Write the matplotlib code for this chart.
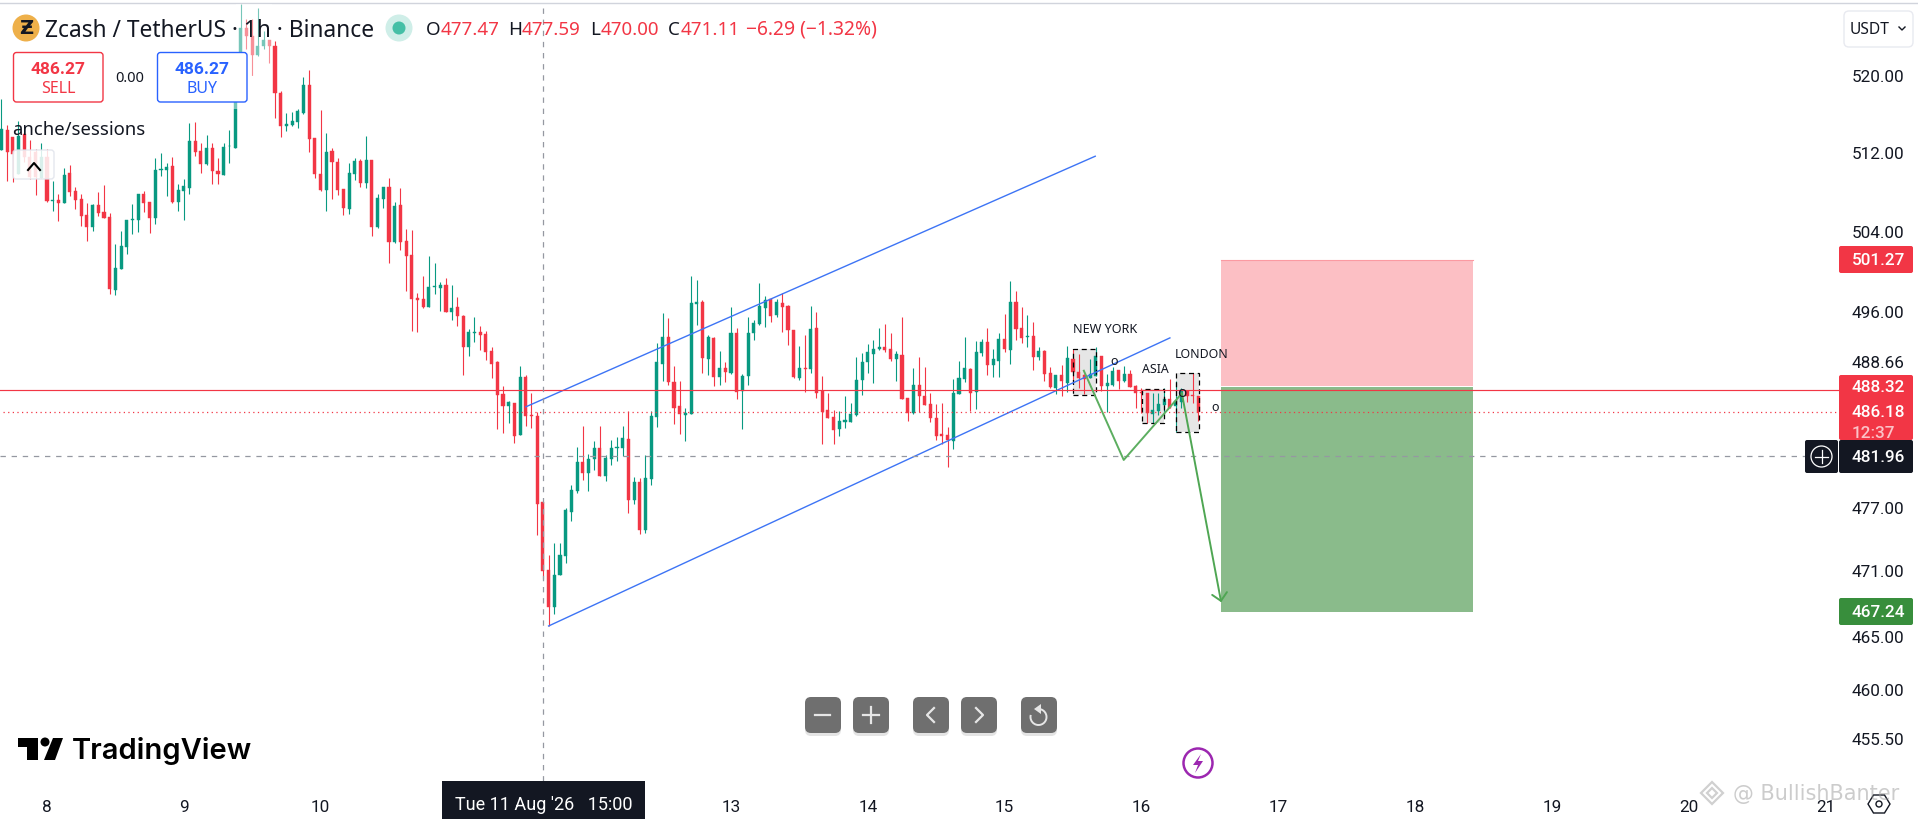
import numpy as np
import matplotlib
matplotlib.use("Agg")
import matplotlib.pyplot as plt
from matplotlib.patches import Rectangle, FancyBboxPatch, Circle, Polygon, Arc
from matplotlib.ticker import NullLocator, NullFormatter

# candles, hourly, first one is 16:00 on the 7th
opens = [512.3,514.4,513.7,509.9,514.0,511.6,512.15,509.5,511.6,507.2,
 507.3,507.0,510.0,508.2,507.4,505.8,504.6,506.8,506.1,505.6,
 498.3,500.4,502.6,505.3,505.3,507.9,507.1,505.5,510.3,510.3,
 510.7,507.1,508.2,508.5,513.2,512.25,510.9,512.55,510.2,509.8,
 512.7,512.55,520.9,524.9,524.05,522.1,523.0,523.6,523.0,518.2,
 514.8,514.9,515.2,516.1,519.0,513.6,509.9,508.3,512.25,511.1,
 508.4,506.4,509.9,511.2,509.0,511.3,504.6,507.4,508.6,503.1,
 506.8,503.2,501.8,497.5,497.4,496.6,498.6,498.5,498.8,496.1,
 496.6,495.75,492.75,494.1,494.2,494.0,492.3,491.2,488.1,487.0,
 487.3,484.2,489.8,486.1,486.0,477.8,471.4,468.0,470.9,472.7,
 476.9,478.8,481.6,480.6,481.9,482.9,480.3,481.9,482.9,482.9,
 483.8,478.0,479.7,475.2,480.0,485.9,491.1,493.7,489.3,487.0,
 486.1,486.2,496.9,497.1,491.5,493.6,489.8,490.7,490.2,494.1,
 488.4,489.9,494.1,495.0,496.5,497.4,495.85,497.0,496.7,494.4,
 489.7,490.7,490.6,494.6,488.4,486.6,485.9,484.8,485.4,485.4,
 486.1,489.5,491.2,492.0,492.5,492.75,492.5,491.5,491.9,487.8,
 486.3,489.0,487.9,487.2,485.8,484.3,484.2,483.6,488.1,489.6,
 490.6,488.3,492.1,493.2,491.0,491.3,493.5,492.45,497.1,494.6,
 493.7,493.8,491.7,492.3,490.2,488.7,490.0,489.2,491.5,490.3,
 490.0,489.7,489.9,491.8,488.9,489.0,490.5,489.4,490.1,488.9,
 488.3,488.2,486.2,486.5,487.1,487.7,487.0,487.4,488.4,488.0,
 487.9]
highs = [517.5,514.9,513.7,515.3,514.0,513.3,512.4,513.06,512.4,509.2,
 507.9,510.5,510.8,508.6,507.9,507.0,506.9,508.1,508.8,506.0,
 502.9,504.2,505.3,506.9,507.9,508.2,507.1,511.5,512.05,511.0,
 511.6,508.9,509.4,515.1,515.2,513.06,513.9,513.0,511.5,513.06,
 514.4,521.1,527.4,525.8,525.8,527.0,524.6,523.6,523.5,518.4,
 516.1,516.2,516.5,519.8,520.5,513.6,516.4,514.1,512.55,511.5,
 508.4,511.0,511.5,511.4,513.8,511.3,507.9,508.6,509.5,507.1,
 508.5,504.4,504.3,498.0,499.7,501.7,501.0,499.1,499.5,498.8,
 497.6,495.85,494.5,495.65,494.8,494.3,492.75,491.3,488.9,487.5,
 487.3,490.9,490.0,488.2,486.4,477.8,472.8,473.9,473.9,477.2,
 479.4,483.0,485.1,482.4,483.6,485.1,482.3,483.7,484.0,485.1,
 486.5,480.2,480.1,482.3,486.5,493.1,496.0,495.6,490.9,489.4,
 486.8,499.7,499.3,497.3,493.9,493.7,492.3,491.2,496.6,494.6,
 490.1,495.65,495.4,499.0,497.7,497.5,497.4,498.0,496.8,494.4,
 492.8,493.9,496.7,496.1,489.9,488.2,486.6,486.5,487.9,487.3,
 491.7,492.1,493.0,493.4,494.6,495.0,494.1,492.3,495.65,487.8,
 490.7,491.7,490.8,488.2,487.2,487.3,485.0,489.6,491.3,493.7,
 490.7,493.3,493.5,494.6,492.5,494.1,495.9,499.2,498.2,496.6,
 495.85,495.2,492.75,492.45,490.8,490.0,491.0,492.8,492.5,492.0,
 490.1,491.5,492.75,491.8,490.1,490.8,490.5,490.9,490.5,489.0,
 488.7,488.2,488.2,488.2,488.7,489.6,489.4,488.7,488.5,490.2,
 487.9]
lows = [512.3,509.2,509.1,509.9,511.1,509.4,507.8,509.5,507.1,506.2,
 505.2,507.0,507.7,506.4,504.7,503.2,504.2,505.7,505.5,497.9,
 497.8,500.4,501.9,503.9,504.1,506.1,504.0,504.9,509.7,507.7,
 507.0,506.2,505.3,507.9,511.7,510.0,510.8,508.9,508.9,509.8,
 511.0,512.55,520.9,522.7,520.0,522.0,522.7,521.2,515.6,513.66,
 514.3,514.8,514.6,516.0,512.15,509.5,508.2,506.2,507.4,507.8,
 505.8,505.9,509.3,508.6,508.5,503.7,504.5,506.5,501.0,503.0,
 502.3,498.2,494.3,494.2,496.5,496.6,497.9,496.2,496.1,495.4,
 494.8,490.0,491.8,493.2,492.4,491.4,489.7,484.8,484.4,485.3,
 483.4,484.2,485.1,484.9,474.7,470.6,466.2,467.3,470.9,472.1,
 476.0,478.7,479.9,478.8,480.8,480.3,479.8,481.3,481.7,482.2,
 476.8,477.6,474.8,474.9,479.4,485.0,489.4,489.0,485.2,484.3,
 483.6,486.2,494.9,490.2,490.0,488.9,489.0,489.3,490.1,487.7,
 484.8,489.0,493.4,494.9,494.7,495.2,495.65,494.2,492.9,489.7,
 489.5,488.3,490.2,487.8,483.3,485.8,483.3,484.1,484.9,485.4,
 486.0,488.0,490.2,489.2,492.45,492.2,491.3,489.4,487.7,485.5,
 486.2,486.4,487.1,485.4,483.7,483.3,481.1,482.8,488.1,489.3,
 486.5,486.7,491.8,490.0,489.8,489.8,492.2,491.1,493.4,493.1,
 492.75,490.5,491.4,489.4,488.7,488.1,487.9,488.3,489.3,488.7,
 488.1,489.7,489.9,488.4,486.4,488.9,488.6,489.3,488.8,486.8,
 486.3,485.3,485.3,486.1,486.2,486.8,484.5,486.8,487.4,487.3,
 485.5]
closes = [514.5,512.15,511.95,513.8,511.6,509.6,509.6,511.6,507.2,507.3,
 507.0,509.8,508.1,507.3,505.7,504.6,506.8,506.0,505.5,498.4,
 500.5,502.7,505.3,505.4,507.9,507.0,505.5,510.3,510.4,510.6,
 507.1,508.3,508.7,513.2,512.15,510.9,512.55,510.2,509.9,512.65,
 512.75,520.9,524.9,524.05,522.1,523.0,523.6,523.0,518.2,514.8,
 515.0,515.3,516.3,519.0,513.5,509.9,508.3,512.15,511.1,508.3,
 506.5,510.0,511.2,509.0,511.3,504.6,507.5,508.6,503.1,506.7,
 503.1,501.7,497.4,497.3,496.6,498.6,498.7,498.8,496.1,496.5,
 495.75,492.75,494.2,494.2,493.9,492.2,491.1,488.0,487.0,487.4,
 484.1,489.8,486.0,486.0,477.6,471.3,468.0,470.95,472.8,477.0,
 478.9,481.6,480.6,481.9,482.9,480.3,482.0,482.9,483.0,483.9,
 478.0,479.7,475.2,480.1,486.0,491.2,493.7,489.3,486.8,486.2,
 486.3,497.0,497.1,491.6,493.7,489.8,490.7,490.3,494.1,488.3,
 489.9,494.1,495.1,496.7,497.3,495.75,497.1,496.6,494.4,489.8,
 490.7,490.6,494.5,488.2,486.4,485.8,484.7,485.5,485.6,486.2,
 489.5,491.2,492.2,492.5,492.75,492.45,491.5,492.0,487.7,486.3,
 489.0,487.9,487.1,485.8,484.1,484.1,483.7,488.2,489.7,490.7,
 488.2,492.2,493.2,491.0,491.5,493.5,492.5,497.1,494.5,493.6,
 493.8,491.7,492.3,490.1,488.8,490.0,489.4,491.6,490.3,489.7,
 489.6,490.1,491.8,488.9,489.2,490.4,489.4,490.1,488.8,488.2,
 488.2,486.3,486.6,487.2,487.7,486.8,487.5,488.5,487.9,487.9,
 486.4]

# axes labels
price_ticks = [520, 512.1, 504.2, 496.2, 491.3, 477.3, 471.4, 465.3, 460.4, 456.0]
price_labels = ["520.00", "512.00", "504.00", "496.00", "488.66", "477.00", "471.00", "465.00", "460.00", "455.50"]
day_ticks = [0, 24, 48, 120, 144, 168, 192, 216, 240, 264, 288, 312]
day_labels = ["8", "9", "10", "13", "14", "15", "16", "17", "18", "19", "20", "21"]

# drawings on the chart (hour, price)
upper_line_x = [84, 183.9]
upper_line_y = [486.9, 511.7]
lower_line_x = [88, 197]
lower_line_y = [466.2, 493.6]
path_x = [181.9, 188.9, 199.1, 206]
path_y = [490.4, 481.8, 488.2, 468.4]
sessions = [("NEW YORK", 180, 184, 488.0, 492.5), ("ASIA", 192.1, 196, 485.3, 488.6), ("LONDON", 198, 202.1, 484.5, 490.2)]
stop_price = 501.27
entry_price = 488.9
target_price = 467.5
line_price = 488.57
last_price = 486.4
cross_price = 482.2

RED = "#f23645"
GREEN = "#089981"
BLUE = "#2962ff"
DARK = "#131722"
FONT = "Noto Sans"
NUMFONT = "Roboto"

fig = plt.figure(figsize=(19.18, 8.2), dpi=100)
ax = fig.add_axes([0, 0, 1, 1])
ax.set_yscale("log")
ax.set_xlim((0 - 47) / 5.7, (1918 - 47) / 5.7)
ax.set_ylim(448.7, 527.9)

opens = np.array(opens)
highs = np.array(highs)
lows = np.array(lows)
closes = np.array(closes)
hours = np.arange(-8, -8 + len(opens))
up = closes >= opens
colors = [GREEN if u else RED for u in up]

# risk / reward boxes
ax.add_patch(Rectangle((206, entry_price), 44.2, stop_price - entry_price, fc="#fcbfc4", ec="none", zorder=1))
ax.plot([206, 250.2], [stop_price, stop_price], color="#fb9aa2", lw=0.8, zorder=1)
ax.add_patch(Rectangle((206, target_price), 44.2, entry_price - 0.12 - target_price, fc="#8abb8b", ec="none", zorder=1))

# session boxes
for name, x0, x1, y0, y1 in sessions:
    ax.add_patch(Rectangle((x0, y0), x1 - x0, y1 - y0, fc="#e6e6e6", ec="none", zorder=1.5))
    ax.add_patch(Rectangle((x0, y0), x1 - x0, y1 - y0, fc="none", ec="black", lw=0.9, ls=(0, (4, 3)), zorder=3))

# candles
ax.vlines(hours, lows, highs, colors=colors, lw=0.8, zorder=2)
ax.bar(hours, closes - opens, bottom=opens, width=0.56, color=colors, edgecolor=colors, linewidth=0.3, zorder=2.1)

ax.plot(upper_line_x, upper_line_y, color="#3d74f5", lw=1.0, zorder=3)
ax.plot(lower_line_x, lower_line_y, color="#3d74f5", lw=1.0, zorder=3)

# price lines and crosshair
ax.plot([-8.25, 314.4], [line_price, line_price], color=RED, lw=0.85, zorder=3.5)
ax.plot([-7.7, 314.4], [last_price, last_price], color=RED, lw=0.9, ls=(0, (1, 2.7)), zorder=3.5)
ax.plot([-8.25, 308.4], [cross_price, cross_price], color="#9598a1", lw=0.9, ls=(0, (4.3, 4.6)), zorder=3.5)
ax.axvline(87, ymin=(820 - 782) / 820, ymax=1 - 5 / 820, color="#9598a1", lw=0.9, ls=(0, (4.3, 4.6)), zorder=3.5)

# green path
ax.plot(path_x[:3], path_y[:3], color="#5cae60", lw=1.4, zorder=4)
ax.annotate("", xy=(path_x[3], path_y[3]), xytext=(path_x[2], path_y[2]),
            arrowprops=dict(arrowstyle="->,head_length=0.3,head_width=0.3", color="#4fa653", lw=1.4, mutation_scale=18, shrinkA=0, shrinkB=0), zorder=4)

# session names
ax.text(180, 494.5, "NEW YORK", fontsize=9.1, family=FONT, color=DARK, va="center", zorder=5)
ax.text(192.1, 490.65, "ASIA", fontsize=8.9, family=FONT, color=DARK, va="center", zorder=5)
ax.text(197.8, 492.1, "LONDON", fontsize=8.9, family=FONT, color=DARK, va="center", zorder=5)
ax.text(187.2, 491.4, "o", fontsize=9, family=FONT, color=DARK, ha="center", va="center", zorder=5)
ax.text(205, 486.9, "o", fontsize=9, family=FONT, color=DARK, ha="center", va="center", zorder=5)
ax.text(199.1, 488.3, "o", fontsize=11, family=FONT, color=DARK, ha="center", va="center", zorder=5)

# real axes, labels pulled inside the picture
for s in ax.spines.values():
    s.set_visible(False)
ax.yaxis.tick_right()
ax.set_yticks(price_ticks, price_labels)
ax.yaxis.set_minor_locator(NullLocator())
ax.yaxis.set_minor_formatter(NullFormatter())
ax.tick_params(axis="y", length=0, direction="in", pad=-47.5, labelsize=12.3, labelcolor=DARK)
for t in ax.get_yticklabels():
    t.set_family(NUMFONT)
ax.set_xticks(day_ticks, day_labels)
ax.tick_params(axis="x", length=0, direction="in", pad=-14.5, labelsize=12.3, labelcolor=DARK)
for t in ax.get_xticklabels():
    t.set_family(NUMFONT)

# screen furniture goes on a second layer in pixel coordinates
ui = fig.add_axes([0, 0, 1, 1])
ui.set_xlim(0, 1918)
ui.set_ylim(820, 0)
ui.axis("off")
ui.patch.set_alpha(0)


def box(x0, y0, x1, y1, fc, ec="none", r=3, lw=1, alpha=None, z=2):
    p = FancyBboxPatch((x0 + r, y0 + r), x1 - x0 - 2 * r, y1 - y0 - 2 * r, boxstyle="round,pad=%d,rounding_size=%d" % (r, r),
                       fc=fc, ec=ec, lw=lw, alpha=alpha, zorder=z)
    ui.add_patch(p)


def label(x, y, s, size=12, color=DARK, ha="left", weight="normal", family=FONT):
    ui.text(x, y, s, fontsize=size, color=color, ha=ha, va="center", fontweight=weight, family=family, zorder=6)


ui.plot([0, 1918], [3.5, 3.5], color="#d1d4dc", lw=1, zorder=1)

# faded parts under the legend
ui.add_patch(Rectangle((236, 5), 36, 71, fc="white", alpha=0.45, ec="none", zorder=1))
ui.add_patch(Rectangle((230, 103), 17, 7, fc="white", alpha=0.45, ec="none", zorder=1))

# header
ui.add_patch(Circle((26, 29), 13.5, fc="#eeb04a", ec="none", zorder=2))
label(26, 29, "Ƶ", 14, DARK, ha="center", weight="bold", family="DejaVu Sans")
label(45, 31, "Zcash / TetherUS · 1h · Binance", 16.4)
ui.add_patch(Circle((399, 29), 13.5, fc="#cfeee8", ec="none", zorder=2))
ui.add_patch(Circle((399, 29), 6.5, fc="#45bfa6", ec="none", zorder=3))
for x, x2, a, b in [(426, 441, "O", "477.47"), (508, 522, "H", "477.59"), (590, 601, "L", "470.00"), (668, 681, "C", "471.11")]:
    label(x, 30, a, 13.5)
    label(x2, 30, b, 13.5, RED)
label(746, 30, "−6.29 (−1.32%)", 13.9, RED)

# order buttons
box(13.5, 53.5, 103, 103, "white", RED)
label(58, 69, "486.27", 12.5, RED, ha="center", weight="bold", family=NUMFONT)
label(58, 89, "SELL", 11.5, RED, ha="center")
label(130, 79, "0.00", 10.5, DARK, ha="center")
box(157.5, 53.5, 247, 103, "white", BLUE)
label(202, 69, "486.27", 12.5, BLUE, ha="center", weight="bold", family=NUMFONT)
label(202, 89, "BUY", 11.5, BLUE, ha="center")
label(12, 130, "anche/sessions", 13.3)
box(13, 151, 54, 180, "white", "#e0e3eb", alpha=0.85, z=1.5)
ui.plot([28, 34, 40], [171, 164, 171], color="black", lw=1.5, zorder=3)

# price scale tags
box(1844, 12, 1913, 48, "white", "#e8eaf0", r=5)
label(1850, 30, "USDT", 11.2, DARK, family="Noto Sans")
ui.plot([1899, 1902, 1905], [28, 31, 28], color=DARK, lw=1, zorder=3)
box(1839, 247, 1913, 274, RED, r=2)
label(1852, 260.5, "501.27", 12.3, "white", weight="medium", family=NUMFONT)
box(1839, 376, 1913, 441, RED, r=2)
label(1852, 387.5, "488.32", 12.3, "white", weight="medium", family=NUMFONT)
label(1852, 413, "486.18", 12.3, "white", weight="medium", family=NUMFONT)
label(1852, 433.5, "12:37", 12.3, "#fbc2c7", weight="medium", family=NUMFONT)
box(1805, 441, 1838, 474, DARK, r=2)
ui.add_patch(Circle((1821.5, 457.5), 10.5, fc="none", ec="white", lw=0.9, zorder=3))
ui.plot([1815, 1828], [457.5, 457.5], color="white", lw=0.9, zorder=3)
ui.plot([1821.5, 1821.5], [451, 464], color="white", lw=0.9, zorder=3)
box(1839, 441, 1913, 474, DARK, r=2)
label(1852, 457.5, "481.96", 12.3, "white", weight="medium", family=NUMFONT)
box(1839, 599, 1913, 626, "#388e3c", r=2)
label(1852, 612.5, "467.24", 12.3, "white", weight="medium", family=NUMFONT)

# time scale box
ui.add_patch(Rectangle((442, 782), 203, 38, fc=DARK, ec="none", zorder=2))
label(543.5, 805, "Tue 11 Aug '26   15:00", 13, "white", ha="center", family=NUMFONT)

# TradingView logo
ui.add_patch(Polygon([(18, 739), (38, 739), (38, 761), (27, 761), (27, 748), (18, 748)], fc="black", ec="none", zorder=3))
ui.add_patch(Circle((45, 743), 4.5, fc="black", ec="none", zorder=3))
ui.add_patch(Polygon([(53, 739), (63, 739), (55, 761), (44, 761)], fc="black", ec="none", zorder=3))
label(72, 751, "TradingView", 21, "black", weight="semibold", family="Inter")

# navigation buttons
for x0 in [805, 853, 913, 961, 1021]:
    box(x0, 701, x0 + 36, 737, "#e4e4e4", r=6, z=1.5)
    box(x0, 698, x0 + 36, 734, "#6f6f6f", r=6)
nav = dict(color="#e6e6e6", lw=1.6, zorder=3)
ui.plot([815, 830], [716, 716], **nav)
ui.plot([863, 879], [716, 716], **nav)
ui.plot([871, 871], [708, 724], **nav)
ui.plot([934, 927, 934], [709, 716, 723], **nav)
ui.plot([976, 983, 976], [709, 716, 723], **nav)
ui.add_patch(Arc((1038.5, 718), 16, 16, theta1=270, theta2=195, ec="#e6e6e6", lw=1.4, zorder=3))
ui.add_patch(Polygon([(1041, 705), (1041, 715), (1034, 710)], fc="#e6e6e6", ec="none", zorder=3))

# lightning badge
ui.add_patch(Circle((1198, 764), 14.5, fc="white", ec="#9c27b0", lw=1.8, zorder=3))
ui.add_patch(Polygon([(1201, 755), (1193, 766), (1198, 766), (1195, 774), (1203, 762), (1198, 762)], fc="#9c27b0", ec="none", zorder=4))

# settings hexagon and watermark
ui.add_patch(Polygon([(1868, 805), (1873.5, 796), (1884.5, 796), (1890, 805), (1884.5, 814), (1873.5, 814)], fc="none", ec=DARK, lw=1, zorder=3))
ui.add_patch(Circle((1879, 805), 3, fc="none", ec=DARK, lw=1, zorder=4))
for cx, r in [(1712, 11), (1712, 5)]:
    ui.add_patch(Polygon([(cx - r, 794), (cx, 794 - r), (cx + r, 794), (cx, 794 + r)], fc="none", ec="#d0d0d0", lw=1.6, zorder=5))
ui.text(1733, 794, "@ BullishBanter", fontsize=15, color="#9a9a9a", alpha=0.5, va="center", family="DejaVu Sans", zorder=7)

fig.savefig("out.png", dpi=100)
